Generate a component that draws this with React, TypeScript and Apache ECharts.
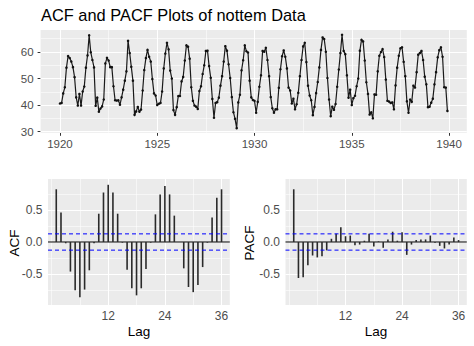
import React, { useEffect, useRef } from "react";
import * as echarts from "echarts";

const startYear = 1920;
const nottem = [
  40.6, 40.8, 44.4, 46.7, 54.1, 58.5, 57.7, 56.4, 54.3, 50.5, 42.9, 39.8,
  44.2, 39.8, 45.1, 47.0, 54.1, 58.7, 66.3, 59.9, 57.0, 54.2, 39.7, 42.8,
  37.5, 38.7, 39.5, 42.1, 55.7, 57.8, 56.8, 54.3, 54.3, 47.1, 41.8, 41.7,
  41.8, 40.1, 42.9, 45.8, 49.2, 52.7, 64.2, 59.6, 54.4, 49.2, 36.3, 37.6,
  39.3, 37.5, 38.3, 45.5, 53.2, 57.7, 60.8, 58.2, 56.4, 49.8, 44.4, 43.6,
  40.0, 40.5, 40.8, 45.1, 53.8, 59.4, 63.5, 61.0, 53.0, 50.0, 38.1, 36.3,
  39.2, 43.4, 43.4, 48.9, 50.6, 56.8, 62.5, 62.0, 57.5, 46.7, 41.6, 39.8,
  39.4, 38.5, 45.3, 47.1, 51.7, 55.0, 60.4, 60.5, 54.7, 50.3, 42.3, 35.2,
  40.8, 41.1, 42.8, 47.3, 50.9, 56.4, 62.2, 60.5, 55.4, 50.2, 43.0, 37.3,
  34.8, 31.3, 41.0, 43.9, 53.1, 56.9, 62.5, 60.3, 59.8, 49.2, 42.9, 41.9,
  41.6, 37.1, 41.2, 46.9, 51.2, 60.4, 60.1, 61.6, 57.0, 50.9, 43.0, 38.8,
  37.1, 38.4, 38.4, 46.5, 53.5, 58.4, 60.6, 58.2, 53.8, 46.6, 45.5, 40.6,
  42.4, 38.4, 40.3, 44.6, 50.9, 57.0, 62.1, 63.5, 56.2, 47.3, 43.6, 41.8,
  36.2, 39.3, 44.5, 48.7, 54.2, 60.8, 65.5, 64.9, 60.1, 50.2, 42.1, 35.8,
  39.4, 38.2, 40.4, 46.9, 53.4, 59.6, 66.5, 60.4, 59.2, 51.2, 42.8, 45.8,
  40.0, 42.6, 43.5, 47.1, 50.0, 60.5, 64.6, 64.0, 56.8, 48.6, 44.2, 36.4,
  37.3, 35.0, 44.0, 43.9, 52.7, 58.6, 60.0, 61.1, 58.1, 49.6, 41.6, 41.3,
  40.8, 41.0, 38.4, 47.4, 54.1, 58.6, 61.4, 61.8, 56.3, 50.9, 41.4, 37.1,
  42.1, 41.2, 47.3, 46.6, 52.4, 59.0, 59.6, 60.4, 57.0, 50.7, 47.8, 39.2,
  39.4, 40.9, 42.4, 47.8, 52.4, 58.0, 60.7, 61.8, 58.2, 46.7, 46.6, 37.8,
];

const lags = [
  1, 2, 3, 4, 5, 6, 7, 8, 9, 10, 11, 12, 13, 14, 15, 16, 17, 18,
  19, 20, 21, 22, 23, 24, 25, 26, 27, 28, 29, 30, 31, 32, 33, 34, 35, 36,
];
const acfValues = [
  0.82, 0.46, -0.02, -0.46, -0.75, -0.86, -0.74, -0.44, -0.02, 0.44, 0.77, 0.89,
  0.77, 0.44, -0.01, -0.43, -0.72, -0.83, -0.72, -0.42, -0.01, 0.43, 0.74, 0.87,
  0.74, 0.41, 0.0, -0.41, -0.7, -0.78, -0.67, -0.39, -0.01, 0.38, 0.69, 0.82,
];
const pacfValues = [
  0.82, -0.56, -0.55, -0.36, -0.21, -0.24, -0.22, -0.13, 0.05, 0.13, 0.23, 0.09,
  0.1, -0.05, -0.04, 0.02, 0.13, -0.07, 0.01, -0.09, 0.04, 0.16, 0.02, 0.15,
  -0.2, -0.04, 0.03, 0.04, 0.04, 0.1, -0.01, -0.06, -0.1, -0.04, 0.07, 0.03,
];
const ciBound = 0.1265;

const tsXTicks = [1920, 1925, 1930, 1935, 1940];
const tsXMinor = [1922.5, 1927.5, 1932.5, 1937.5];
const tsYTicks = [30, 40, 50, 60];
const tsYMinor = [35, 45, 55, 65];
const lagTicks = [12, 24, 36];
const lagMinor = [0, 6, 18, 30];
const corrTicks = [-0.5, 0, 0.5];
const corrMinor = [-0.75, -0.25, 0.25, 0.75];

const LAG_MIN = -0.75;
const LAG_MAX = 37.75;

const FONT = '"Liberation Sans", Arial, sans-serif';
const TICK_COLOR = "#333333";
const LABEL_COLOR = "#4D4D4D";

function gridLines(idx: number, x0: number, y0: number, xMaj: number[], xMin: number[], yMaj: number[], yMin: number[]) {
  const minor = { color: "#FFFFFF", width: 0.55, type: "solid" };
  const major = { color: "#FFFFFF", width: 1.1, type: "solid" };
  return {
    type: "line",
    xAxisIndex: idx,
    yAxisIndex: idx,
    data: [[x0, y0]],
    symbol: "none",
    lineStyle: { opacity: 0 },
    silent: true,
    z: 1,
    markLine: {
      silent: true,
      symbol: ["none", "none"],
      z: 1,
      label: { show: false },
      emphasis: { disabled: true },
      data: [
        ...xMin.map((v) => ({ xAxis: v, lineStyle: minor })),
        ...yMin.map((v) => ({ yAxis: v, lineStyle: minor })),
        ...xMaj.map((v) => ({ xAxis: v, lineStyle: major })),
        ...yMaj.map((v) => ({ yAxis: v, lineStyle: major })),
      ],
    },
  };
}

function hLine(idx: number, value: number, color: string, width: number, type: any, z: number) {
  return {
    type: "line",
    xAxisIndex: idx,
    yAxisIndex: idx,
    data: [[LAG_MIN, value], [LAG_MAX, value]],
    symbol: "none",
    showSymbol: false,
    lineStyle: { color, width, type },
    itemStyle: { color },
    silent: true,
    z,
  };
}

function valueAxis(idx: number, min: number, max: number, ticks: number[], fontSize: number, margin: number, fmt: (v: number) => string) {
  return {
    gridIndex: idx,
    type: "value",
    min,
    max,
    axisLine: { show: false },
    axisTick: { show: true, customValues: ticks, length: 3, lineStyle: { color: TICK_COLOR, width: 1 } },
    axisLabel: { customValues: ticks, color: LABEL_COLOR, fontSize, fontFamily: FONT, margin, formatter: fmt },
    splitLine: { show: false },
    minorSplitLine: { show: false },
  };
}

function corrSeries(idx: number, values: number[]) {
  return {
    type: "bar",
    xAxisIndex: idx,
    yAxisIndex: idx,
    data: lags.map((l, i) => [l, values[i]]),
    barWidth: 1.6,
    itemStyle: { color: "#2a2a2a" },
    silent: true,
    z: 5,
  };
}

const panelBg = { show: true, backgroundColor: "#EBEBEB", borderWidth: 0 };
const yr = (v: number) => String(v);
const corrFmt = (v: number) => v.toFixed(1);
const BLUE = "#0000FF";
const DASH = [4, 3];

const option = {
  animation: false,
  grid: [
    { left: 40.6, top: 30.1, width: 426.2, height: 102.7, ...panelBg },
    { left: 48, top: 179, width: 181.8, height: 126, ...panelBg },
    { left: 285.5, top: 179, width: 181.3, height: 126, ...panelBg },
  ],
  xAxis: [
    valueAxis(0, 1919.004, 1940.913, tsXTicks, 11.5, 5, yr),
    valueAxis(1, LAG_MIN, LAG_MAX, lagTicks, 12, 5, yr),
    valueAxis(2, LAG_MIN, LAG_MAX, lagTicks, 12, 5, yr),
  ],
  yAxis: [
    valueAxis(0, 29.54, 68.26, tsYTicks, 11.5, 7, yr),
    valueAxis(1, -0.98, 0.98, corrTicks, 12, 5.5, corrFmt),
    valueAxis(2, -0.98, 0.98, corrTicks, 12, 5.5, corrFmt),
  ],
  series: [
    gridLines(0, 1920, 40, tsXTicks, tsXMinor, tsYTicks, tsYMinor),
    gridLines(1, 1, 0, lagTicks, lagMinor, corrTicks, corrMinor),
    gridLines(2, 1, 0, lagTicks, lagMinor, corrTicks, corrMinor),
    {
      type: "line",
      xAxisIndex: 0,
      yAxisIndex: 0,
      data: nottem.map((v, i) => [startYear + i / 12, v]),
      symbol: "circle",
      symbolSize: 2.5,
      showSymbol: true,
      itemStyle: { color: "#111111" },
      lineStyle: { color: "#1a1a1a", width: 1.2 },
      silent: true,
      z: 5,
    },
    hLine(1, 0, "#000000", 1.2, "solid", 4),
    hLine(2, 0, "#000000", 1.2, "solid", 4),
    corrSeries(1, acfValues),
    corrSeries(2, pacfValues),
    hLine(1, ciBound, BLUE, 1, DASH, 7),
    hLine(1, -ciBound, BLUE, 1, DASH, 7),
    hLine(2, ciBound, BLUE, 1, DASH, 7),
    hLine(2, -ciBound, BLUE, 1, DASH, 7),
  ],
  graphic: [
    {
      type: "text",
      x: 41,
      y: 15,
      style: { text: "ACF and PACF Plots of nottem Data", font: `16.4px ${FONT}`, fill: "#000000", textAlign: "left", align: "left", textVerticalAlign: "middle", verticalAlign: "middle" },
    },
    {
      type: "text",
      x: 14.5,
      y: 243,
      rotation: Math.PI / 2,
      style: { text: "ACF", font: `13.5px ${FONT}`, fill: "#000000", textAlign: "center", align: "center", textVerticalAlign: "middle", verticalAlign: "middle" },
    },
    {
      type: "text",
      x: 249,
      y: 243,
      rotation: Math.PI / 2,
      style: { text: "PACF", font: `13.5px ${FONT}`, fill: "#000000", textAlign: "center", align: "center", textVerticalAlign: "middle", verticalAlign: "middle" },
    },
    {
      type: "text",
      x: 139,
      y: 331.5,
      style: { text: "Lag", font: `13.5px ${FONT}`, fill: "#000000", textAlign: "center", align: "center", textVerticalAlign: "middle", verticalAlign: "middle" },
    },
    {
      type: "text",
      x: 376,
      y: 331.5,
      style: { text: "Lag", font: `13.5px ${FONT}`, fill: "#000000", textAlign: "center", align: "center", textVerticalAlign: "middle", verticalAlign: "middle" },
    },
  ],
};

export default function App() {
  const ref = useRef<HTMLDivElement>(null);
  useEffect(() => {
    document.body.style.margin = "0";
    const chart = echarts.init(ref.current as HTMLDivElement, null, { renderer: "svg" });
    chart.setOption(option as any);
    return () => chart.dispose();
  }, []);
  return <div ref={ref} style={{ width: 474, height: 346, background: "#FFFFFF" }} />;
}
